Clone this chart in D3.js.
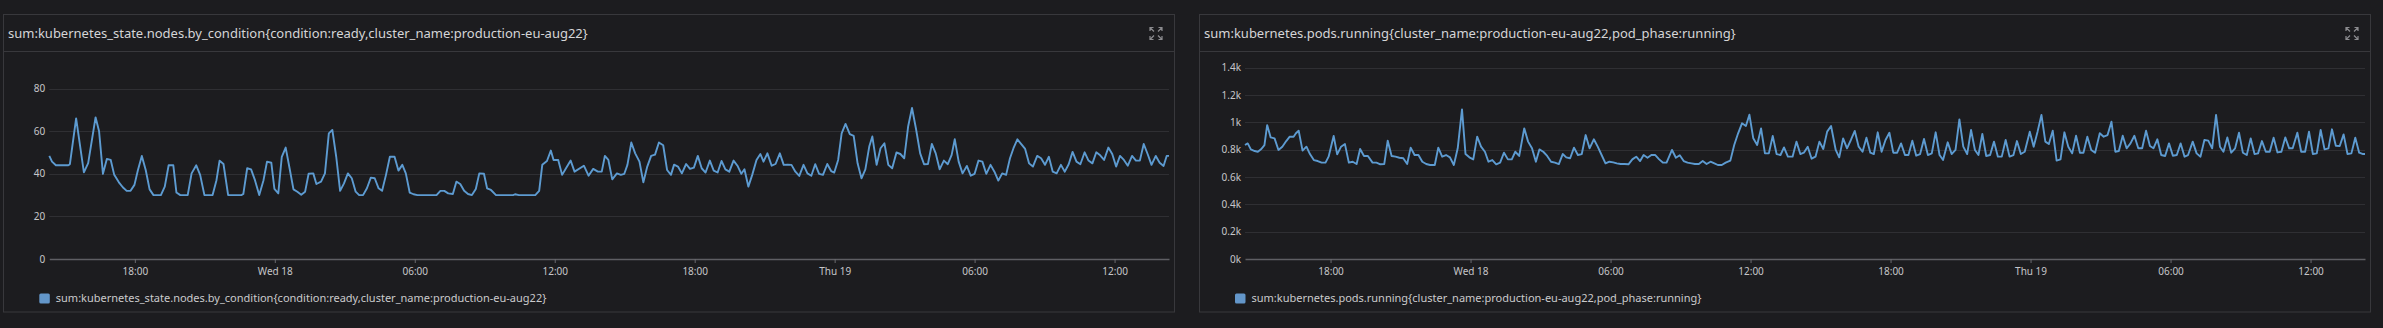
<!DOCTYPE html>
<html>
<head>
<meta charset="utf-8">
<script src="https://cdn.jsdelivr.net/npm/d3@7"></script>
<style>
  html, body { margin: 0; padding: 0; background: #1c1c1f; }
  svg { display: block; }
  text { font-family: "Noto Sans", "Open Sans", sans-serif; }
</style>
</head>
<body>
<svg id="board" width="2383" height="328"></svg>
<script>
// Window shown by both timeseries: Tue 17 14:20 → Thu 19 14:20 (UTC)
const windowStart = Date.UTC(2023, 9, 17, 14, 20);
const windowHours = 48;

// Ready nodes: minutes since window start, node counts
const nodeMinutes = [
  0,7,17,31,49,53,69,89,100,119,
  128,138,148,158,167,179,189,199,209,219,
  228,238,248,258,268,287,297,307,319,327,
  337,356,366,378,388,399,420,430,438,448,
  460,494,499,509,519,529,540,551,560,571,
  579,589,598,608,618,628,638,648,658,667,
  679,687,699,709,719,728,738,748,758,768,
  778,788,797,807,817,827,837,847,856,866,
  876,888,898,908,917,927,937,947,996,1006,
  1016,1026,1038,1047,1057,1067,1077,1087,1097,1106,
  1118,1126,1136,1149,1193,1198,1208,1250,1260,1268,
  1280,1290,1297,1309,1319,1329,1341,1351,
  1375,1387,1399,1411,1421,1429,1438,1448,1460,1470,
  1479,1487,1497,1507,1518,1528,1538,1548,1558,1568,
  1579,1589,1599,1607,1617,1627,1638,1648,1658,1668,
  1678,1688,1699,1709,1719,1729,1739,1749,1760,1770,
  1780,1788,1798,1808,1819,1829,1837,1847,1858,1868,
  1879,1889,1899,1909,1919,1929,1940,1950,1960,1970,
  1980,1990,2001,2011,2019,2029,2038,2048,2059,2069,
  2079,2089,2099,2109,2117,2128,2138,2148,2158,2168,
  2179,2189,2199,2209,2219,2229,2240,2250,2260,2270,
  2280,2290,2301,2311,2321,2329,2339,2349,2360,2370,
  2380,2390,2400,2410,2421,2431,2441,2451,2461,2471,
  2480,2490,2500,2510,2520,2530,2541,2551,2561,2571,
  2581,2591,2602,2612,2622,2632,2642,2652,2663,2673,
  2683,2693,2703,2713,2724,2734,2744,2754,2764,2774,
  2785,2795,2805,2815,2825,2835,2846,2856,2866,2874,
  2880
];
const nodeValues = [
  48.4,45.7,44,44,44,44.5,66,40.7,45,66.5,
  60,40,47,46.5,39.5,36,33.7,32,32,34.8,
  41.8,48.4,41.8,32.7,30,30,34,44,44,31.2,
  30,30,40.2,44,39.5,30,30,37,46.2,44.6,
  30,30,30.5,42.6,42.1,37,30,37,45.7,45.2,
  32.9,30.8,48,52.3,42.6,32.7,31.6,30.2,31.6,40,
  40.2,35.2,36.3,40.2,59,60.6,48,32,35.5,40.2,
  37.9,31.6,30,30,33.2,38.2,37.9,33.2,32,39.5,
  48,48,41.5,44.2,40.2,31.2,30.4,30,30,32,
  32,30.8,30.5,36.3,35.2,32,30.5,30,32.9,40.2,
  40,33.2,32.4,30,30,30.4,30,30,32,44.2,
  46,50.9,46.5,46.5,39.5,42.6,46.2,41,
  43.8,39.1,42.3,41,41,48.4,46.5,37.4,40.2,39.5,
  40,44.2,54.7,49.6,45.7,36,43.4,48.4,49,54.7,
  53.4,41.8,39.5,44.3,43.4,40.2,44.6,42.3,42.9,48.4,
  42.6,40.6,46.2,41.5,40.6,46,42.1,41,46.2,43.8,
  40,42.1,34,39.5,46.5,49.3,45.7,49.6,43.8,44.6,
  49.6,44.2,44.3,44.2,41,39,44.2,40.2,39.1,44.5,
  40,39.5,44.6,41.3,40.6,46.5,59,63.4,58.6,57.8,
  44.9,37.9,42.1,52.8,57.5,44.2,52,54.3,44.2,42.6,
  50,49.3,47.3,62.2,70.9,61.4,49.6,44.5,44.6,54,
  49.6,42.1,46.2,44.5,48.9,56.2,45.7,40.2,43.7,39.1,
  40,46.2,45.7,40,44.2,41,36.8,40.2,39.5,47.3,
  52,56.2,53.9,51.7,44.9,43.4,48.4,47.3,44.2,48,
  41,40.2,44.2,41,44.5,50.3,45.7,44.5,50.1,46.2,
  44.9,50.1,48.7,46.5,52.3,49.3,43.4,48.4,46.5,43.8,
  48.4,46.2,46.2,54,49.3,44.2,48.4,45.2,43.7,48.4,
  48.4
];

// Running pods: minutes since window start, pod counts
const podMinutes = [
  0,7,15,25,33,42,50,57,66,76,
  86,96,106,115,125,131,138,148,158,167,
  177,187,197,207,215,228,237,247,257,267,
  277,287,296,306,316,328,338,348,358,367,
  377,387,397,407,417,426,436,446,456,466,
  476,488,497,507,517,527,537,547,558,567,
  577,587,597,607,617,626,636,646,656,666,
  676,686,695,705,718,728,738,748,757,767,
  777,787,797,807,817,826,836,846,856,866,
  876,886,897,907,917,927,937,947,956,966,
  976,986,996,1006,1016,1025,1035,1045,1055,1065,
  1075,1084,1098,1108,1118,1128,1138,1148,1157,1167,
  1177,1187,1197,1207,1216,1226,1236,1248,1258,1268,
  1278,1288,1297,1307,1317,1327,1337,1347,1357,1367,
  1377,1386,1396,
  1408,1418,1428,1437,1447,1457,1467,1477,1487,1497,
  1507,1519,1528,1538,1548,1558,1568,1578,1588,1598,
  1608,1617,1627,1637,1647,1657,1667,1677,1687,1697,
  1706,1716,1726,1736,1746,1756,1766,1776,1786,1795,
  1807,1817,1827,1837,1847,1857,1867,1877,1886,1896,
  1906,1916,1926,1936,1946,1956,1966,1976,1985,1995,
  2005,2018,2028,2038,2048,2058,2067,2077,2087,2097,
  2107,2117,2127,2137,2147,2156,2166,2176,2186,2198,
  2208,2218,2228,2238,2247,2257,2267,2277,2287,2297,
  2307,2317,2327,2336,2346,2356,2366,2376,2386,2396,
  2406,2416,2425,2437,2447,2457,2467,2477,2487,2497,
  2507,2516,2526,2536,2546,2556,2566,2576,2586,2596,
  2605,2615,2625,2635,2645,2655,2665,2675,2685,2694,
  2706,2716,2726,2736,2746,2756,2766,2776,2786,2795,
  2805,2815,2825,2835,2845,2855,2865,2875,2880
];
const podValues = [
  834,846,802,790,785,805,834,980,890,883,
  798,822,863,895,895,920,939,793,822,768,
  724,717,705,705,749,900,766,822,841,705,
  712,695,805,754,754,705,705,693,695,866,
  754,749,741,737,695,815,761,761,712,695,
  688,688,815,749,761,744,688,810,1095,768,
  744,729,895,822,785,712,724,693,705,778,
  729,729,785,754,956,859,810,712,802,785,
  754,712,705,695,768,744,737,815,761,768,
  907,810,876,822,761,700,712,707,700,695,
  695,693,729,749,717,761,741,761,761,729,
  705,705,798,741,759,717,705,700,695,695,
  717,695,712,700,688,688,705,720,834,920,
  993,973,1056,883,834,956,773,773,900,768,
  761,817,749,
  749,859,768,778,822,734,749,859,805,932,
  973,798,744,883,810,871,937,822,785,888,
  778,768,927,785,871,924,778,778,846,761,
  761,866,756,768,878,761,773,927,761,724,
  854,768,798,1022,822,768,944,798,761,915,
  754,761,859,749,749,871,749,761,863,768,
  785,932,822,932,1054,859,841,939,720,729,
  927,822,773,902,778,778,895,798,778,920,
  895,907,1005,785,790,902,810,846,902,810,
  810,939,827,810,876,761,754,846,756,761,
  846,749,761,859,773,749,871,866,810,1054,
  822,785,890,778,810,924,778,761,883,768,
  773,863,785,785,888,780,785,890,810,810,
  924,785,785,932,768,773,944,802,810,949,
  829,827,912,768,773,888,778,768,768
];

// Axis ticks
const nodeTicks = [0, 20, 40, 60, 80];
const podTicks = [0, 200, 400, 600, 800, 1000, 1200, 1400];

const nodeTitle = "sum:kubernetes_state.nodes.by_condition{condition:ready,cluster_name:production-eu-aug22}";
const podTitle = "sum:kubernetes.pods.running{cluster_name:production-eu-aug22,pod_phase:running}";

const seriesColor = "#5d9bd1";
const svg = d3.select("#board");

const toSeries = (mins, vals) => mins.map((m, i) => ({ t: new Date(windowStart + m * 60000), v: vals[i] }));

const timeLabel = d => (d.getUTCHours() === 0 ? d3.utcFormat("%a %d")(d) : d3.utcFormat("%H:%M")(d));

function drawPanel(cfg) {
  const g = svg.append("g");
  const { box, plot } = cfg;

  // frame and header separator
  g.append("rect")
    .attr("x", box.x + 0.5).attr("y", box.y + 0.5)
    .attr("width", box.w).attr("height", box.h)
    .attr("fill", "#1c1c1f").attr("stroke", "#38383c").attr("stroke-width", 1);
  g.append("line")
    .attr("x1", box.x + 0.5).attr("x2", box.x + box.w + 0.5)
    .attr("y1", box.y + 37.5).attr("y2", box.y + 37.5)
    .attr("stroke", "#38383c");

  g.append("text")
    .attr("x", box.x + 5).attr("y", box.y + 23.5)
    .attr("fill", "#d5d5d7").attr("font-size", 13)
    .text(cfg.title);

  // expand icon
  const cx = box.x + box.w - 18, cy = box.y + 19.5, a = 6, b = 2;
  const icon = g.append("g").attr("stroke", "#8b8b8f").attr("stroke-width", 1.2).attr("fill", "none");
  [[-1, -1], [1, -1], [-1, 1], [1, 1]].forEach(([sx, sy]) => {
    icon.append("path").attr("d",
      `M${cx + sx * b},${cy + sy * b}L${cx + sx * a},${cy + sy * a}` +
      `M${cx + sx * a},${cy + sy * (a - 3.5)}L${cx + sx * a},${cy + sy * a}L${cx + sx * (a - 3.5)},${cy + sy * a}`);
  });

  const x = d3.scaleUtc()
    .domain([new Date(windowStart), new Date(windowStart + windowHours * 3600000)])
    .range([plot.left, plot.right]);
  const y = d3.scaleLinear().domain(cfg.yDomain).range([plot.bottom, plot.top]);

  // horizontal grid
  g.append("g").selectAll("line").data(cfg.ticks.filter(d => d !== 0)).join("line")
    .attr("x1", plot.left).attr("x2", plot.right)
    .attr("y1", d => Math.round(y(d)) + 0.5).attr("y2", d => Math.round(y(d)) + 0.5)
    .attr("stroke", "#2f2f33").attr("stroke-width", 1.2);

  // y labels
  g.append("g").selectAll("text").data(cfg.ticks).join("text")
    .attr("x", plot.left - 4).attr("y", d => y(d) + 3.5)
    .attr("text-anchor", "end").attr("font-size", 10).attr("fill", "#c6c6c9")
    .text(cfg.yFormat);

  // x axis
  const xAxis = d3.axisBottom(x).ticks(d3.utcHour.every(6)).tickFormat(timeLabel).tickSize(4).tickSizeOuter(0);
  const ax = g.append("g").attr("transform", `translate(0,${plot.bottom})`).call(xAxis);
  ax.select(".domain").attr("stroke", "#5e5e63").attr("stroke-width", 1.6);
  ax.selectAll(".tick line").attr("stroke", "#6a6a6f");
  ax.selectAll(".tick text").attr("fill", "#c6c6c9").attr("font-size", 10)
    .attr("font-family", "\"Noto Sans\", \"Open Sans\", sans-serif").attr("dy", "0.9em");

  // series line
  const line = d3.line().x(d => x(d.t)).y(d => y(d.v));
  g.append("path").datum(cfg.data)
    .attr("d", line).attr("fill", "none")
    .attr("stroke", seriesColor).attr("stroke-width", 1.9)
    .attr("stroke-linejoin", "round");

  // legend
  g.append("rect")
    .attr("x", cfg.legendX).attr("y", 293.5).attr("width", 10.5).attr("height", 10)
    .attr("rx", 1.5).attr("fill", "#6396c9");
  g.append("text")
    .attr("x", cfg.legendX + 16.5).attr("y", 302.3)
    .attr("fill", "#cacacc").attr("font-size", 11)
    .text(cfg.title);
}

drawPanel({
  box: { x: 3, y: 14, w: 1171, h: 297.5 },
  plot: { left: 49.3, right: 1169, top: 88.6, bottom: 259 },
  yDomain: [0, 80],
  ticks: nodeTicks,
  yFormat: d => d,
  title: nodeTitle,
  data: toSeries(nodeMinutes, nodeValues),
  legendX: 39.3
});

drawPanel({
  box: { x: 1199, y: 14, w: 1171, h: 297.5 },
  plot: { left: 1245, right: 2365, top: 67.7, bottom: 259 },
  yDomain: [0, 1400],
  ticks: podTicks,
  yFormat: d => (d / 1000) + "k",
  title: podTitle,
  data: toSeries(podMinutes, podValues),
  legendX: 1235
});
</script>
</body>
</html>
